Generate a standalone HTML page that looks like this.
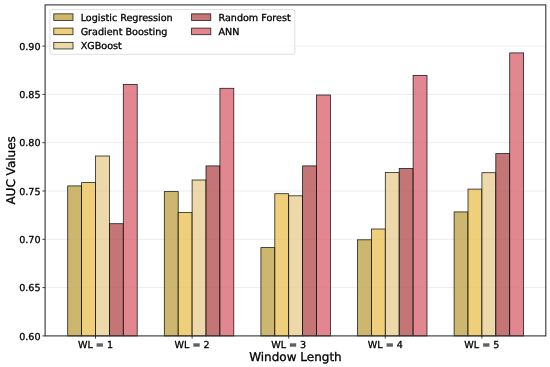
<!DOCTYPE html><html><head><meta charset="utf-8"><title>AUC Values by Window Length</title>
<style>html,body{margin:0;padding:0;background:#fff}svg{display:block}text{text-rendering:geometricPrecision;font-family:"DejaVu Sans","Liberation Sans",sans-serif;fill:#000;stroke:#000;stroke-width:0.3px;stroke-linejoin:round}</style></head><body>
<svg width="550" height="367" viewBox="0 0 550 367">
<rect width="550" height="367" fill="#fff"/>
<line x1="45.1" x2="545.8" y1="287.60" y2="287.60" stroke="#b0b0b0" stroke-opacity="0.3" stroke-width="0.8"/>
<line x1="45.1" x2="545.8" y1="239.30" y2="239.30" stroke="#b0b0b0" stroke-opacity="0.3" stroke-width="0.8"/>
<line x1="45.1" x2="545.8" y1="191.00" y2="191.00" stroke="#b0b0b0" stroke-opacity="0.3" stroke-width="0.8"/>
<line x1="45.1" x2="545.8" y1="142.70" y2="142.70" stroke="#b0b0b0" stroke-opacity="0.3" stroke-width="0.8"/>
<line x1="45.1" x2="545.8" y1="94.40" y2="94.40" stroke="#b0b0b0" stroke-opacity="0.3" stroke-width="0.8"/>
<line x1="45.1" x2="545.8" y1="46.10" y2="46.10" stroke="#b0b0b0" stroke-opacity="0.3" stroke-width="0.8"/>
<rect x="67.70" y="185.90" width="13.9" height="150.00" fill="#C0A54A" fill-opacity="0.8" stroke="#000" stroke-opacity="0.85" stroke-width="0.8"/>
<rect x="81.60" y="182.60" width="13.9" height="153.30" fill="#ECC359" fill-opacity="0.8" stroke="#000" stroke-opacity="0.85" stroke-width="0.8"/>
<rect x="95.50" y="156.00" width="13.9" height="179.90" fill="#E8CE95" fill-opacity="0.8" stroke="#000" stroke-opacity="0.85" stroke-width="0.8"/>
<rect x="109.40" y="223.70" width="13.9" height="112.20" fill="#B55454" fill-opacity="0.8" stroke="#000" stroke-opacity="0.85" stroke-width="0.8"/>
<rect x="123.30" y="84.40" width="13.9" height="251.50" fill="#DB6973" fill-opacity="0.8" stroke="#000" stroke-opacity="0.85" stroke-width="0.8"/>
<rect x="164.30" y="191.60" width="13.9" height="144.30" fill="#C0A54A" fill-opacity="0.8" stroke="#000" stroke-opacity="0.85" stroke-width="0.8"/>
<rect x="178.20" y="212.60" width="13.9" height="123.30" fill="#ECC359" fill-opacity="0.8" stroke="#000" stroke-opacity="0.85" stroke-width="0.8"/>
<rect x="192.10" y="180.00" width="13.9" height="155.90" fill="#E8CE95" fill-opacity="0.8" stroke="#000" stroke-opacity="0.85" stroke-width="0.8"/>
<rect x="206.00" y="165.90" width="13.9" height="170.00" fill="#B55454" fill-opacity="0.8" stroke="#000" stroke-opacity="0.85" stroke-width="0.8"/>
<rect x="219.90" y="88.30" width="13.9" height="247.60" fill="#DB6973" fill-opacity="0.8" stroke="#000" stroke-opacity="0.85" stroke-width="0.8"/>
<rect x="260.90" y="247.60" width="13.9" height="88.30" fill="#C0A54A" fill-opacity="0.8" stroke="#000" stroke-opacity="0.85" stroke-width="0.8"/>
<rect x="274.80" y="193.70" width="13.9" height="142.20" fill="#ECC359" fill-opacity="0.8" stroke="#000" stroke-opacity="0.85" stroke-width="0.8"/>
<rect x="288.70" y="195.80" width="13.9" height="140.10" fill="#E8CE95" fill-opacity="0.8" stroke="#000" stroke-opacity="0.85" stroke-width="0.8"/>
<rect x="302.60" y="165.90" width="13.9" height="170.00" fill="#B55454" fill-opacity="0.8" stroke="#000" stroke-opacity="0.85" stroke-width="0.8"/>
<rect x="316.50" y="95.00" width="13.9" height="240.90" fill="#DB6973" fill-opacity="0.8" stroke="#000" stroke-opacity="0.85" stroke-width="0.8"/>
<rect x="357.50" y="239.80" width="13.9" height="96.10" fill="#C0A54A" fill-opacity="0.8" stroke="#000" stroke-opacity="0.85" stroke-width="0.8"/>
<rect x="371.40" y="229.00" width="13.9" height="106.90" fill="#ECC359" fill-opacity="0.8" stroke="#000" stroke-opacity="0.85" stroke-width="0.8"/>
<rect x="385.30" y="172.40" width="13.9" height="163.50" fill="#E8CE95" fill-opacity="0.8" stroke="#000" stroke-opacity="0.85" stroke-width="0.8"/>
<rect x="399.20" y="168.50" width="13.9" height="167.40" fill="#B55454" fill-opacity="0.8" stroke="#000" stroke-opacity="0.85" stroke-width="0.8"/>
<rect x="413.10" y="75.40" width="13.9" height="260.50" fill="#DB6973" fill-opacity="0.8" stroke="#000" stroke-opacity="0.85" stroke-width="0.8"/>
<rect x="454.10" y="211.90" width="13.9" height="124.00" fill="#C0A54A" fill-opacity="0.8" stroke="#000" stroke-opacity="0.85" stroke-width="0.8"/>
<rect x="468.00" y="189.10" width="13.9" height="146.80" fill="#ECC359" fill-opacity="0.8" stroke="#000" stroke-opacity="0.85" stroke-width="0.8"/>
<rect x="481.90" y="172.70" width="13.9" height="163.20" fill="#E8CE95" fill-opacity="0.8" stroke="#000" stroke-opacity="0.85" stroke-width="0.8"/>
<rect x="495.80" y="153.60" width="13.9" height="182.30" fill="#B55454" fill-opacity="0.8" stroke="#000" stroke-opacity="0.85" stroke-width="0.8"/>
<rect x="509.70" y="52.90" width="13.9" height="283.00" fill="#DB6973" fill-opacity="0.8" stroke="#000" stroke-opacity="0.85" stroke-width="0.8"/>
<rect x="45.1" y="4.9" width="500.70" height="331.00" fill="none" stroke="#333" stroke-width="1.1"/>
<line x1="42.300000000000004" x2="45.1" y1="335.90" y2="335.90" stroke="#000" stroke-width="0.7"/>
<text x="40.50" y="339.55" font-size="9.6" text-anchor="end">0.60</text>
<line x1="42.300000000000004" x2="45.1" y1="287.60" y2="287.60" stroke="#000" stroke-width="0.7"/>
<text x="40.50" y="291.25" font-size="9.6" text-anchor="end">0.65</text>
<line x1="42.300000000000004" x2="45.1" y1="239.30" y2="239.30" stroke="#000" stroke-width="0.7"/>
<text x="40.50" y="242.95" font-size="9.6" text-anchor="end">0.70</text>
<line x1="42.300000000000004" x2="45.1" y1="191.00" y2="191.00" stroke="#000" stroke-width="0.7"/>
<text x="40.50" y="194.65" font-size="9.6" text-anchor="end">0.75</text>
<line x1="42.300000000000004" x2="45.1" y1="142.70" y2="142.70" stroke="#000" stroke-width="0.7"/>
<text x="40.50" y="146.35" font-size="9.6" text-anchor="end">0.80</text>
<line x1="42.300000000000004" x2="45.1" y1="94.40" y2="94.40" stroke="#000" stroke-width="0.7"/>
<text x="40.50" y="98.05" font-size="9.6" text-anchor="end">0.85</text>
<line x1="42.300000000000004" x2="45.1" y1="46.10" y2="46.10" stroke="#000" stroke-width="0.7"/>
<text x="40.50" y="49.75" font-size="9.6" text-anchor="end">0.90</text>
<line x1="95.50" x2="95.50" y1="335.9" y2="338.7" stroke="#000" stroke-width="0.7"/>
<text x="95.50" y="347.9" font-size="9.6" text-anchor="middle">WL = 1</text>
<line x1="192.10" x2="192.10" y1="335.9" y2="338.7" stroke="#000" stroke-width="0.7"/>
<text x="192.10" y="347.9" font-size="9.6" text-anchor="middle">WL = 2</text>
<line x1="288.70" x2="288.70" y1="335.9" y2="338.7" stroke="#000" stroke-width="0.7"/>
<text x="288.70" y="347.9" font-size="9.6" text-anchor="middle">WL = 3</text>
<line x1="385.30" x2="385.30" y1="335.9" y2="338.7" stroke="#000" stroke-width="0.7"/>
<text x="385.30" y="347.9" font-size="9.6" text-anchor="middle">WL = 4</text>
<line x1="481.90" x2="481.90" y1="335.9" y2="338.7" stroke="#000" stroke-width="0.7"/>
<text x="481.90" y="347.9" font-size="9.6" text-anchor="middle">WL = 5</text>
<text x="295.45" y="361" font-size="12.0" text-anchor="middle">Window Length</text>
<text transform="translate(14.6 170.40) rotate(-90)" font-size="12.0" text-anchor="middle">AUC Values</text>
<rect x="49.9" y="9.6" width="244.9" height="44.7" rx="2" ry="2" fill="#fff" fill-opacity="0.8" stroke="#ccc" stroke-opacity="0.8" stroke-width="0.8"/>
<rect x="53.80" y="13.85" width="19.2" height="6.6" fill="#C0A54A" fill-opacity="0.8" stroke="#000" stroke-opacity="0.85" stroke-width="0.8"/>
<text x="80.68" y="20.50" font-size="9.6">Logistic Regression</text>
<rect x="53.80" y="28.10" width="19.2" height="6.6" fill="#ECC359" fill-opacity="0.8" stroke="#000" stroke-opacity="0.85" stroke-width="0.8"/>
<text x="80.68" y="34.75" font-size="9.6">Gradient Boosting</text>
<rect x="53.80" y="42.35" width="19.2" height="6.6" fill="#E8CE95" fill-opacity="0.8" stroke="#000" stroke-opacity="0.85" stroke-width="0.8"/>
<text x="80.68" y="49.00" font-size="9.6">XGBoost</text>
<rect x="191.60" y="13.85" width="19.2" height="6.6" fill="#B55454" fill-opacity="0.8" stroke="#000" stroke-opacity="0.85" stroke-width="0.8"/>
<text x="218.48" y="20.50" font-size="9.6">Random Forest</text>
<rect x="191.60" y="28.10" width="19.2" height="6.6" fill="#DB6973" fill-opacity="0.8" stroke="#000" stroke-opacity="0.85" stroke-width="0.8"/>
<text x="218.48" y="34.75" font-size="9.6">ANN</text>
</svg></body></html>
